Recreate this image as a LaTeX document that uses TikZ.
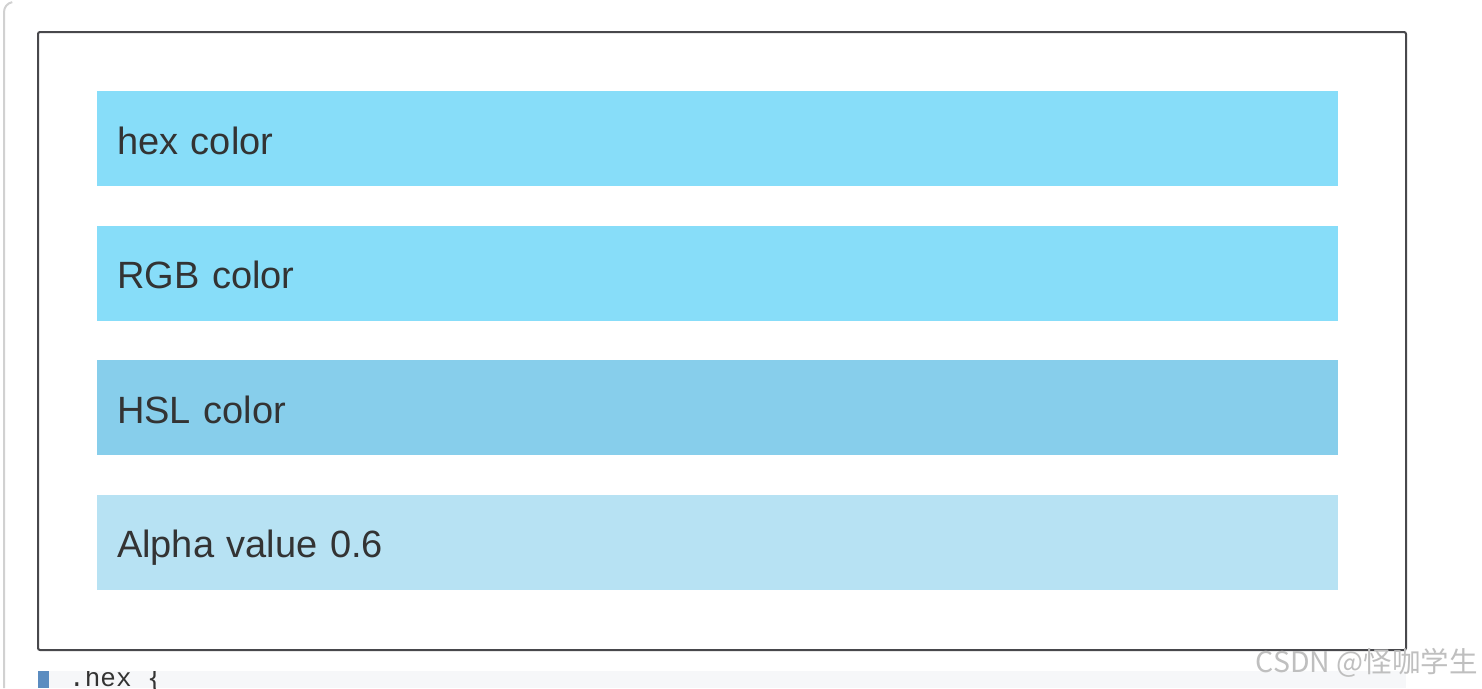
\documentclass[tikz,border=0pt]{standalone}
\usepackage{fontspec}
\setmainfont{Liberation Sans}
\newfontfamily\codefont{Liberation Mono}
\newfontfamily\cjkfont{Noto Sans CJK SC}
\usepackage{xcolor}
\usetikzlibrary{positioning}
\definecolor{hexc}{HTML}{87DDF9}
\definecolor{hslc}{HTML}{87CEEB}
\definecolor{alphac}{HTML}{B7E2F3}
\definecolor{framec}{HTML}{48484C}
\definecolor{inkc}{HTML}{333333}
\definecolor{codebg}{HTML}{F6F7F9}
\definecolor{codebar}{HTML}{5B8CC0}

\begin{document}
\begin{tikzpicture}[
  x=1pt, y=-1pt,
  node distance=39.5pt,
  bar/.style={anchor=north west,inner xsep=20pt,inner ysep=0pt,outer sep=0pt,
    text width=1201pt,align=left,minimum height=95pt,text height=31pt,text depth=0pt,
    text=inkc,font=\fontsize{38}{46}\selectfont}]
\useasboundingbox[fill=white] (0,0) rectangle (1482,688);

% page edge
\draw[line width=2pt,black!18] (4,688) -- (4,12) arc[start angle=180,end angle=260,radius=10];

% demo frame
\draw[line width=2pt,framec,rounded corners=2pt] (38,32) rectangle (1406,650);

\node[bar,fill=hexc] (hex) at (97,91) {hex color};
\node[bar,fill=hexc,below=of hex.south west,anchor=north west] (rgb) {RGB color};
\node[bar,fill=hslc,below=of rgb.south west,anchor=north west] (hsl) {HSL color};
\node[bar,fill=alphac,below=of hsl.south west,anchor=north west] (alpha) {Alpha value 0.6};

% code block below
\fill[codebg] (38,671) rectangle (1406,688);
\fill[codebar] (38,671) rectangle (49,688);
\begin{scope}
\clip (38,671) rectangle (1406,688);
\node[anchor=base west,inner sep=0pt,text=inkc,font=\codefont\fontsize{26}{30}\selectfont] (code) at (69,686) {.hex \{};
\end{scope}

% watermark
\node[anchor=base east,inner sep=0pt,text=black!25,font=\cjkfont\fontsize{28.5}{32}\selectfont] (mark) at (1478,672) {CSDN @怪咖学生};
\end{tikzpicture}
\end{document}
